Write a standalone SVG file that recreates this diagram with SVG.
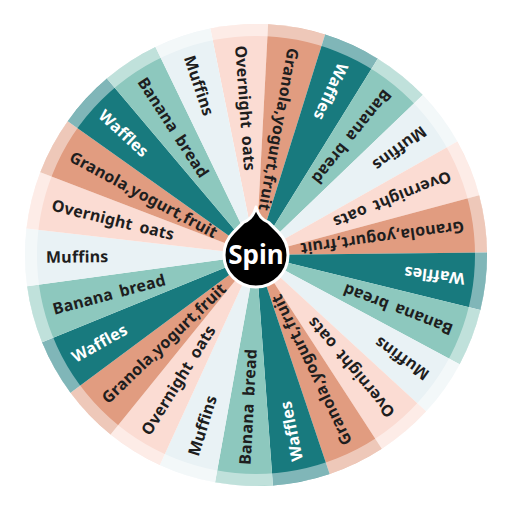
<svg xmlns="http://www.w3.org/2000/svg" width="512" height="512" viewBox="0 0 512 512">
<style>
.oo{fill:#FBDCD3}.gr{fill:#E19C80}.wa{fill:#187A7E}.bb{fill:#8DC8BE}.mu{fill:#E9F2F5}
.t{font-family:"Noto Sans","DejaVu Sans",sans-serif;font-weight:700;font-size:16px;fill:#1e1e1e;word-spacing:3px;letter-spacing:0.2px}
.tw{fill:#ffffff}
</style>
<g id="wheel">
<g id="seg0"><path class="oo" d="M256,255 L210.34,28.56 A231,231 0 0 1 268.09,24.32 Z"/><text class="t" transform="translate(256 255) rotate(85.8)" x="-210" dy="0.35em">Overnight oats</text></g>
<g id="seg1"><path class="gr" d="M256,255 L268.09,24.32 A231,231 0 0 1 325.08,34.57 Z"/><text class="t" transform="translate(256 255) rotate(100.2)" x="-210" dy="0.35em">Granola,yogurt,fruit</text></g>
<g id="seg2"><path class="wa" d="M256,255 L325.08,34.57 A231,231 0 0 1 377.73,58.68 Z"/><text class="t tw" transform="translate(256 255) rotate(114.6)" x="-210" dy="0.35em">Waffles</text></g>
<g id="seg3"><path class="bb" d="M256,255 L377.73,58.68 A231,231 0 0 1 422.73,95.12 Z"/><text class="t" transform="translate(256 255) rotate(129)" x="-210" dy="0.35em">Banana bread</text></g>
<g id="seg4"><path class="mu" d="M256,255 L422.73,95.12 A231,231 0 0 1 457.25,141.60 Z"/><text class="t" transform="translate(256 255) rotate(143.4)" x="-210" dy="0.35em">Muffins</text></g>
<g id="seg5"><path class="oo" d="M256,255 L457.25,141.60 A231,231 0 0 1 479.13,195.21 Z"/><text class="t" transform="translate(256 255) rotate(157.8)" x="-210" dy="0.35em">Overnight oats</text></g>
<g id="seg6"><path class="gr" d="M256,255 L479.13,195.21 A231,231 0 0 1 486.99,252.58 Z"/><text class="t" transform="translate(256 255) rotate(172.2)" x="-210" dy="0.35em">Granola,yogurt,fruit</text></g>
<g id="seg7"><path class="wa" d="M256,255 L486.99,252.58 A231,231 0 0 1 480.33,310.10 Z"/><text class="t tw" transform="translate(256 255) rotate(186.6)" x="-210" dy="0.35em">Waffles</text></g>
<g id="seg8"><path class="bb" d="M256,255 L480.33,310.10 A231,231 0 0 1 459.58,364.16 Z"/><text class="t" transform="translate(256 255) rotate(201)" x="-210" dy="0.35em">Banana bread</text></g>
<g id="seg9"><path class="mu" d="M256,255 L459.58,364.16 A231,231 0 0 1 426.04,411.36 Z"/><text class="t" transform="translate(256 255) rotate(215.4)" x="-210" dy="0.35em">Muffins</text></g>
<g id="seg10"><path class="oo" d="M256,255 L426.04,411.36 A231,231 0 0 1 381.81,448.73 Z"/><text class="t" transform="translate(256 255) rotate(229.8)" x="-210" dy="0.35em">Overnight oats</text></g>
<g id="seg11"><path class="gr" d="M256,255 L381.81,448.73 A231,231 0 0 1 329.68,473.93 Z"/><text class="t" transform="translate(256 255) rotate(244.2)" x="-210" dy="0.35em">Granola,yogurt,fruit</text></g>
<g id="seg12"><path class="wa" d="M256,255 L329.68,473.93 A231,231 0 0 1 272.92,485.38 Z"/><text class="t tw" transform="translate(256 255) rotate(258.6)" x="-210" dy="0.35em">Waffles</text></g>
<g id="seg13"><path class="bb" d="M256,255 L272.92,485.38 A231,231 0 0 1 215.09,482.35 Z"/><text class="t" transform="translate(256 255) rotate(273)" x="-210" dy="0.35em">Banana bread</text></g>
<g id="seg14"><path class="mu" d="M256,255 L215.09,482.35 A231,231 0 0 1 159.84,465.03 Z"/><text class="t" transform="translate(256 255) rotate(287.4)" x="-210" dy="0.35em">Muffins</text></g>
<g id="seg15"><path class="oo" d="M256,255 L159.84,465.03 A231,231 0 0 1 110.63,434.52 Z"/><text class="t" transform="translate(256 255) rotate(301.8)" x="-210" dy="0.35em">Overnight oats</text></g>
<g id="seg16"><path class="gr" d="M256,255 L110.63,434.52 A231,231 0 0 1 70.55,392.73 Z"/><text class="t" transform="translate(256 255) rotate(316.2)" x="-210" dy="0.35em">Granola,yogurt,fruit</text></g>
<g id="seg17"><path class="wa" d="M256,255 L70.55,392.73 A231,231 0 0 1 42.12,342.28 Z"/><text class="t tw" transform="translate(256 255) rotate(330.6)" x="-210" dy="0.35em">Waffles</text></g>
<g id="seg18"><path class="bb" d="M256,255 L42.12,342.28 A231,231 0 0 1 27.14,286.35 Z"/><text class="t" transform="translate(256 255) rotate(345)" x="-210" dy="0.35em">Banana bread</text></g>
<g id="seg19"><path class="mu" d="M256,255 L27.14,286.35 A231,231 0 0 1 26.53,228.45 Z"/><text class="t" transform="translate(256 255) rotate(359.4)" x="-210" dy="0.35em">Muffins</text></g>
<g id="seg20"><path class="oo" d="M256,255 L26.53,228.45 A231,231 0 0 1 40.34,172.22 Z"/><text class="t" transform="translate(256 255) rotate(373.8)" x="-210" dy="0.35em">Overnight oats</text></g>
<g id="seg21"><path class="gr" d="M256,255 L40.34,172.22 A231,231 0 0 1 67.70,121.19 Z"/><text class="t" transform="translate(256 255) rotate(388.2)" x="-210" dy="0.35em">Granola,yogurt,fruit</text></g>
<g id="seg22"><path class="wa" d="M256,255 L67.70,121.19 A231,231 0 0 1 106.90,78.56 Z"/><text class="t tw" transform="translate(256 255) rotate(402.6)" x="-210" dy="0.35em">Waffles</text></g>
<g id="seg23"><path class="bb" d="M256,255 L106.90,78.56 A231,231 0 0 1 155.46,47.03 Z"/><text class="t" transform="translate(256 255) rotate(417)" x="-210" dy="0.35em">Banana bread</text></g>
<g id="seg24"><path class="mu" d="M256,255 L155.46,47.03 A231,231 0 0 1 210.34,28.56 Z"/><text class="t" transform="translate(256 255) rotate(431.4)" x="-210" dy="0.35em">Muffins</text></g>
</g>
<circle id="rim" cx="256" cy="255" r="225" fill="none" stroke="#ffffff" stroke-opacity="0.45" stroke-width="12"/>
<g id="spin">
<path d="M256,207 C258,215 262,220 268.6,222.4 L278.6,232.4 A32,32 0 1 1 233.4,232.4 L243.4,222.4 C250,220 254,215 256,207 Z" fill="#000000" stroke="#ffffff" stroke-width="3" stroke-linejoin="round"/>
<text x="256" y="264" text-anchor="middle" font-family="Noto Sans, DejaVu Sans, sans-serif" font-weight="700" font-size="26" fill="#ffffff">Spin</text>
</g>
</svg>
